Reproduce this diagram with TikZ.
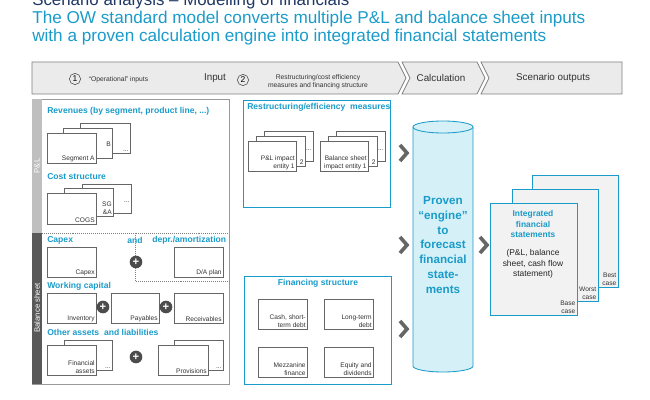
\documentclass[tikz,border=0pt]{standalone}
\usepackage{fontspec}
\setmainfont{Liberation Sans}
\usetikzlibrary{fit}
\definecolor{owblue}{HTML}{1A9BC9}
\definecolor{owdark}{HTML}{1F3864}
\definecolor{owcyl}{HTML}{D5F1F7}
\tikzstyle{ibox}=[draw=black!60,fill=white,inner sep=0pt,line width=0.5pt]
\tikzstyle{btxt}=[font=\fontsize{4.7}{5.5}\selectfont,align=right,inner sep=1pt,text=black!80]
\tikzstyle{head}=[font=\bfseries\fontsize{6.1}{7}\selectfont,text=owblue,anchor=west,inner sep=0pt]
\tikzstyle{plus}=[circle,fill=black!70,text=white,inner sep=0pt,minimum size=9pt,font=\bfseries\fontsize{8}{8}\selectfont]
\tikzstyle{chev}=[draw=black!60,line width=2.6pt]
\tikzstyle{bar}=[fill=black!8,draw=black!50,line width=0.5pt]
\tikzstyle{obox}=[draw=owblue,fill=black!5,line width=0.6pt]
\newcommand{\pbox}[6]{%
  \path (#2,#3) coordinate (#1a) (#4,#5) coordinate (#1b);
  \node[ibox,fit=(#1a)(#1b)] (#1) {};
  \node[btxt,anchor=south east] at (#1.south east) {#6};}
\begin{document}
\begin{tikzpicture}[x=0.025cm,y=-0.025cm]
  \useasboundingbox (0,0) rectangle (650,400);
  % title
  \node[anchor=west,text=owdark,font=\fontsize{12}{14}\selectfont,inner sep=0pt] (t0) at (32,1) {Scenario analysis -- Modelling of financials};
  \node[anchor=north west,text=owblue,font=\fontsize{12.2}{13}\selectfont,align=left,inner sep=0pt] (t1) at (32,11)
    {The OW standard model converts multiple P\&L and balance sheet inputs\\with a proven calculation engine into integrated financial statements};
  % header bar
  \path[bar] (32,62) -- (398,62) -- (406,78) -- (398,94) -- (32,94) -- cycle;
  \path[bar] (402,62) -- (477,62) -- (485,78) -- (477,94) -- (402,94) -- (410,78) -- cycle;
  \path[bar] (481,62) -- (622,62) -- (622,94) -- (481,94) -- (489,78) -- cycle;
  \node[circle,draw=black!70,inner sep=0pt,minimum size=8pt,font=\fontsize{6}{6}\selectfont] (c1) at (75,79) {1};
  \node[font=\fontsize{4.8}{5.6}\selectfont,anchor=west,text=black!80] (op) at (84,80) {``Operational'' inputs};
  \node[font=\fontsize{7}{8}\selectfont,text=black!80] (inp) at (215,78) {Input};
  \node[circle,draw=black!70,inner sep=0pt,minimum size=8pt,font=\fontsize{6}{6}\selectfont] (c2) at (243,80) {2};
  \node[font=\fontsize{4.8}{5.8}\selectfont,align=center,text=black!80] (rs) at (318,82) {Restructuring/cost efficiency\\measures and financing structure};
  \node[font=\fontsize{7}{8}\selectfont,text=black!80] (calc) at (441,78) {Calculation};
  \node[font=\fontsize{7}{8}\selectfont,text=black!80] (so) at (553,78) {Scenario outputs};
  \draw[black!50] (32,99) -- (230,99);
  % left panel
  \draw[black!40,line width=0.6pt] (32,99) rectangle (229,384);
  \fill[black!25] (32,99) rectangle (42,233);
  \fill[black!65] (32,233) rectangle (42,384);
  \node[rotate=90,text=white,font=\fontsize{5.5}{6}\selectfont] (pl) at (37,166) {P\&L};
  \node[rotate=90,text=white,font=\fontsize{5.5}{6}\selectfont] (bs) at (37,308) {Balance sheet};
  \draw[black!50,densely dotted] (42,233) -- (229,233) (135,233) -- (135,281) -- (229,281);
  \node[head] (hrev) at (47,111) {Revenues (by segment, product line, ...)};
  \pbox{r3}{80}{123}{130}{153}{...}
  \pbox{r2}{63}{128}{112}{158}{B\\[2pt]\ }
  \pbox{r1}{47}{133}{96}{163}{Segment A}
  \node[head] (hcost) at (47,177) {Cost structure};
  \pbox{k3}{82}{184}{131}{213}{...\\[1pt]\ }
  \pbox{k2}{64}{188}{113}{216}{SG\\\&A}
  \pbox{k1}{47}{193}{96}{224}{COGS}
  \node[head] (hcap) at (47,240) {Capex};
  \node[head] (hand) at (127,240) {and};
  \node[head] (hda) at (152,240) {depr./amortization};
  \pbox{cx}{47}{247}{96}{277}{Capex}
  \pbox{da}{174}{247}{223}{277}{D/A plan}
  \node[plus] (p1) at (136,262) {+};
  \node[head] (hwc) at (47,286) {Working capital};
  \pbox{inv}{47}{293}{96}{323}{Inventory}
  \pbox{pay}{111}{293}{159}{323}{Payables}
  \pbox{rec}{174}{293}{223}{323}{Receivables}
  \node[plus] (p2) at (103,307) {+};
  \node[plus] (p3) at (166,307) {+};
  \node[head] (hoa) at (47,332) {Other assets\ \ and liabilities};
  \pbox{fa2}{64}{340}{112}{370}{...}
  \pbox{fa}{47}{345}{96}{375}{Financial\\assets}
  \pbox{pr2}{174}{340}{223}{370}{...}
  \pbox{pr}{158}{345}{208}{375}{Provisions}
  \node[plus] (p4) at (136,357) {+};
  % restructuring
  \draw[owblue,line width=0.6pt] (243,100) rectangle (390,207);
  \node[head] (hre) at (247,107) {Restructuring/efficiency\ \ measures};
  \pbox{e3}{264}{131}{313}{161}{...\\[1pt]\ }
  \pbox{e2}{256}{136}{305}{166}{2}
  \pbox{e1}{248}{141}{296}{171}{P\&L impact\\entity 1}
  \pbox{b3}{336}{131}{385}{161}{...\\[1pt]\ }
  \pbox{b2}{328}{136}{377}{166}{2}
  \pbox{b1}{320}{141}{368}{171}{Balance sheet\\impact entity 1}
  % financing
  \draw[owblue,line width=0.6pt] (244,276) rectangle (391,384);
  \node[head,anchor=center] (hfin) at (318,283) {Financing structure};
  \pbox{f1}{258}{299}{307}{329}{Cash, short-\\term debt}
  \pbox{f2}{324}{299}{373}{329}{Long-term\\debt}
  \pbox{f3}{258}{347}{307}{377}{Mezzanine\\finance}
  \pbox{f4}{324}{347}{373}{377}{Equity and\\dividends}
  % chevrons
  \foreach \cy in {153,245,329} \draw[chev] (400,\cy-8) -- (407,\cy) -- (400,\cy+8);
  \draw[chev] (480,237) -- (487,245) -- (480,253);
  % engine
  \draw[owblue,fill=owcyl,line width=0.6pt] (413,127) -- (413,366) arc[start angle=180,end angle=360,x radius=30,y radius=-6] -- (473,127);
  \draw[owblue,fill=owcyl,line width=0.6pt] (443,127) ellipse[x radius=30,y radius=6];
  \node[text=owblue,font=\bfseries\fontsize{8.3}{10.6}\selectfont,align=center] (eng) at (443,245)
    {Proven\\``engine''\\to\\forecast\\financial\\state-\\ments};
  % outputs
  \draw[obox] (532,175) rectangle (618,287);
  \node[btxt,anchor=south east] (best) at (618,287) {Best\\case};
  \draw[obox] (512,189) rectangle (598,301);
  \node[btxt,anchor=south east] (worst) at (598,301) {Worst\\case};
  \draw[obox] (490,203) rectangle (577,315);
  \node[btxt,anchor=south east] (base) at (577,315) {Base\\case};
  \node[text=owblue,font=\bfseries\fontsize{6}{7.6}\selectfont,align=center] (ifs) at (533,224) {Integrated\\financial\\statements};
  \node[font=\fontsize{6}{7.4}\selectfont,align=center,text=black!85] (ifd) at (533,264) {(P\&L, balance\\sheet, cash flow\\statement)};
\end{tikzpicture}
\end{document}
